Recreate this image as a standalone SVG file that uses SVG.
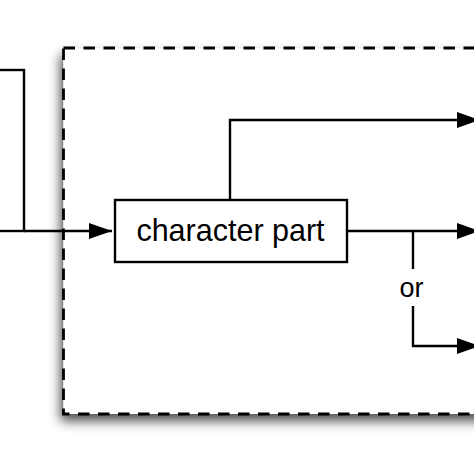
<svg xmlns="http://www.w3.org/2000/svg" width="474" height="474" viewBox="0 0 474 474">
  <style>
    .box { fill: #fff; stroke: #000; stroke-width: 2.4; }
    .line { fill: none; stroke: #000; stroke-width: 2.4; }
    .label { font-family: "Liberation Sans", Arial, sans-serif; fill: #000; }
  </style>
  <defs>
    <filter id="shadow" x="-20%" y="-20%" width="140%" height="140%">
      <feDropShadow dx="-3" dy="7" stdDeviation="6" flood-color="#000" flood-opacity="0.7"/>
    </filter>
    <marker id="arrow" markerUnits="userSpaceOnUse" markerWidth="24" markerHeight="18" refX="23" refY="8" orient="auto">
      <path d="M0,0 L23,8 L0,16 Z" fill="#000"/>
    </marker>
  </defs>
  <rect width="474" height="474" fill="#fff"/>

  <g id="container">
    <rect x="63.5" y="48" width="440" height="366" fill="#fff" filter="url(#shadow)"/>
    <rect x="63.5" y="48" width="440" height="366" fill="none" stroke="#000" stroke-width="2.8" stroke-dasharray="11.5 8.5"/>
  </g>

  <g id="input-node">
    <rect class="box" x="-10" y="70" width="34" height="161"/>
  </g>

  <g id="character-part">
    <rect class="box" x="115" y="200" width="232" height="62"/>
    <text class="label" x="230.5" y="241" font-size="30.5" text-anchor="middle">character part</text>
  </g>

  <g id="connectors">
    <path class="line" d="M24,231 H112" marker-end="url(#arrow)"/>
    <path class="line" d="M230,200 V120 H480" marker-end="url(#arrow)"/>
    <path class="line" d="M347,231 H480" marker-end="url(#arrow)"/>
    <path class="line" d="M413,231 V269"/>
    <path class="line" d="M413,306 V346 H480" marker-end="url(#arrow)"/>
    <text class="label" x="411.5" y="297" font-size="27" text-anchor="middle">or</text>
  </g>
</svg>
